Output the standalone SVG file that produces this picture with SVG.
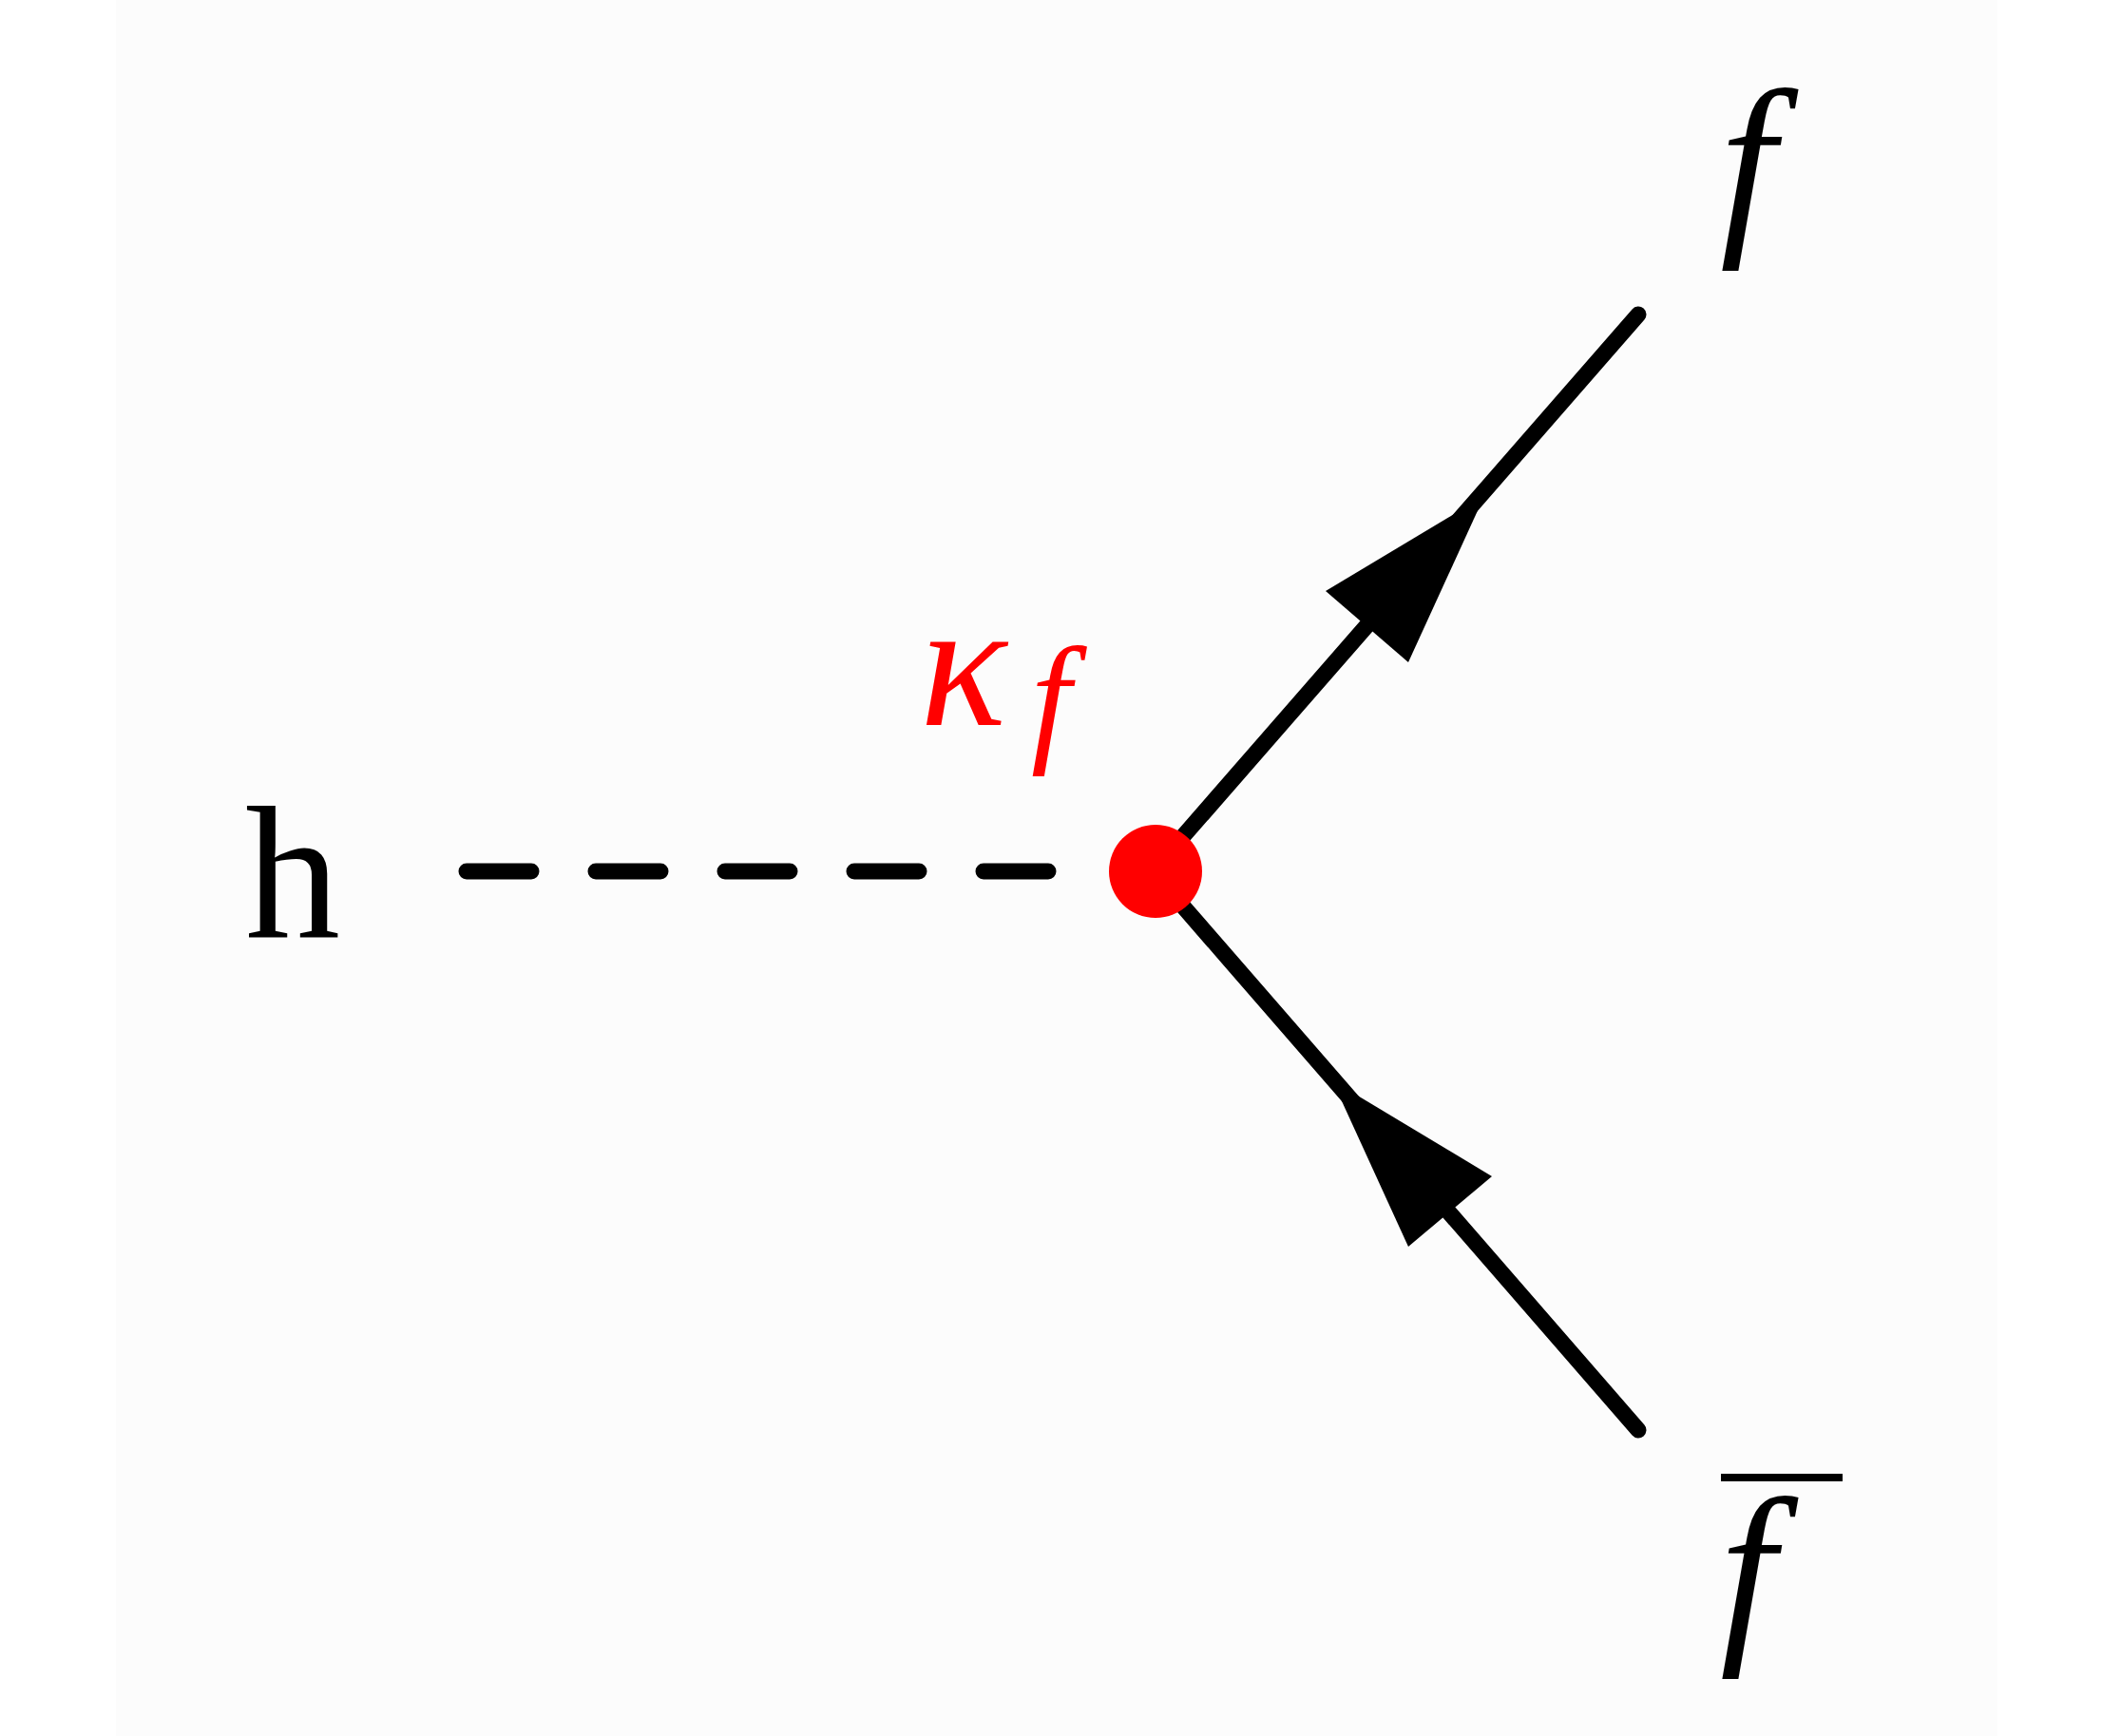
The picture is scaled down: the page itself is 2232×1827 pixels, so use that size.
<svg xmlns="http://www.w3.org/2000/svg" width="2232" height="1827" viewBox="0 0 2232 1827">
<style>
.ln{stroke:#000;stroke-width:17;stroke-linecap:round;fill:none}
.lbl{font-family:"Liberation Serif",serif;fill:#000}
.it{font-style:italic}
</style>
<rect width="2232" height="1827" fill="#fff"/>
<rect x="122" y="0" width="1980" height="1827" fill="#fcfcfc"/>
<g id="connectors">
<line class="ln" x1="491" y1="917" x2="1112" y2="917" stroke-dasharray="68 68"/>
<line class="ln" x1="1239" y1="887" x2="1724" y2="331"/>
<polygon points="1395,622 1482,697 1562,522" fill="#000"/>
<line class="ln" x1="1239" y1="947" x2="1724" y2="1505"/>
<polygon points="1402,1137 1482,1312 1570,1238" fill="#000"/>
</g>
<g id="vertex"><circle cx="1216" cy="917" r="49" fill="#f00"/></g>
<g id="h"><text class="lbl" x="258" y="987" font-size="200">h</text></g>
<g id="f"><text class="lbl it" x="1810" y="240" font-size="210">f</text></g>
<g id="fbar"><line x1="1811" y1="1555" x2="1939" y2="1555" stroke="#000" stroke-width="8"/><text class="lbl it" x="1810" y="1722" font-size="210">f</text></g>
<g id="kappa"><text class="lbl it" x="968" y="763" font-size="190" fill="#f00" style="fill:#f00">κ</text><text class="lbl it" x="1085" y="785" font-size="150" style="fill:#f00">f</text></g>
</svg>
